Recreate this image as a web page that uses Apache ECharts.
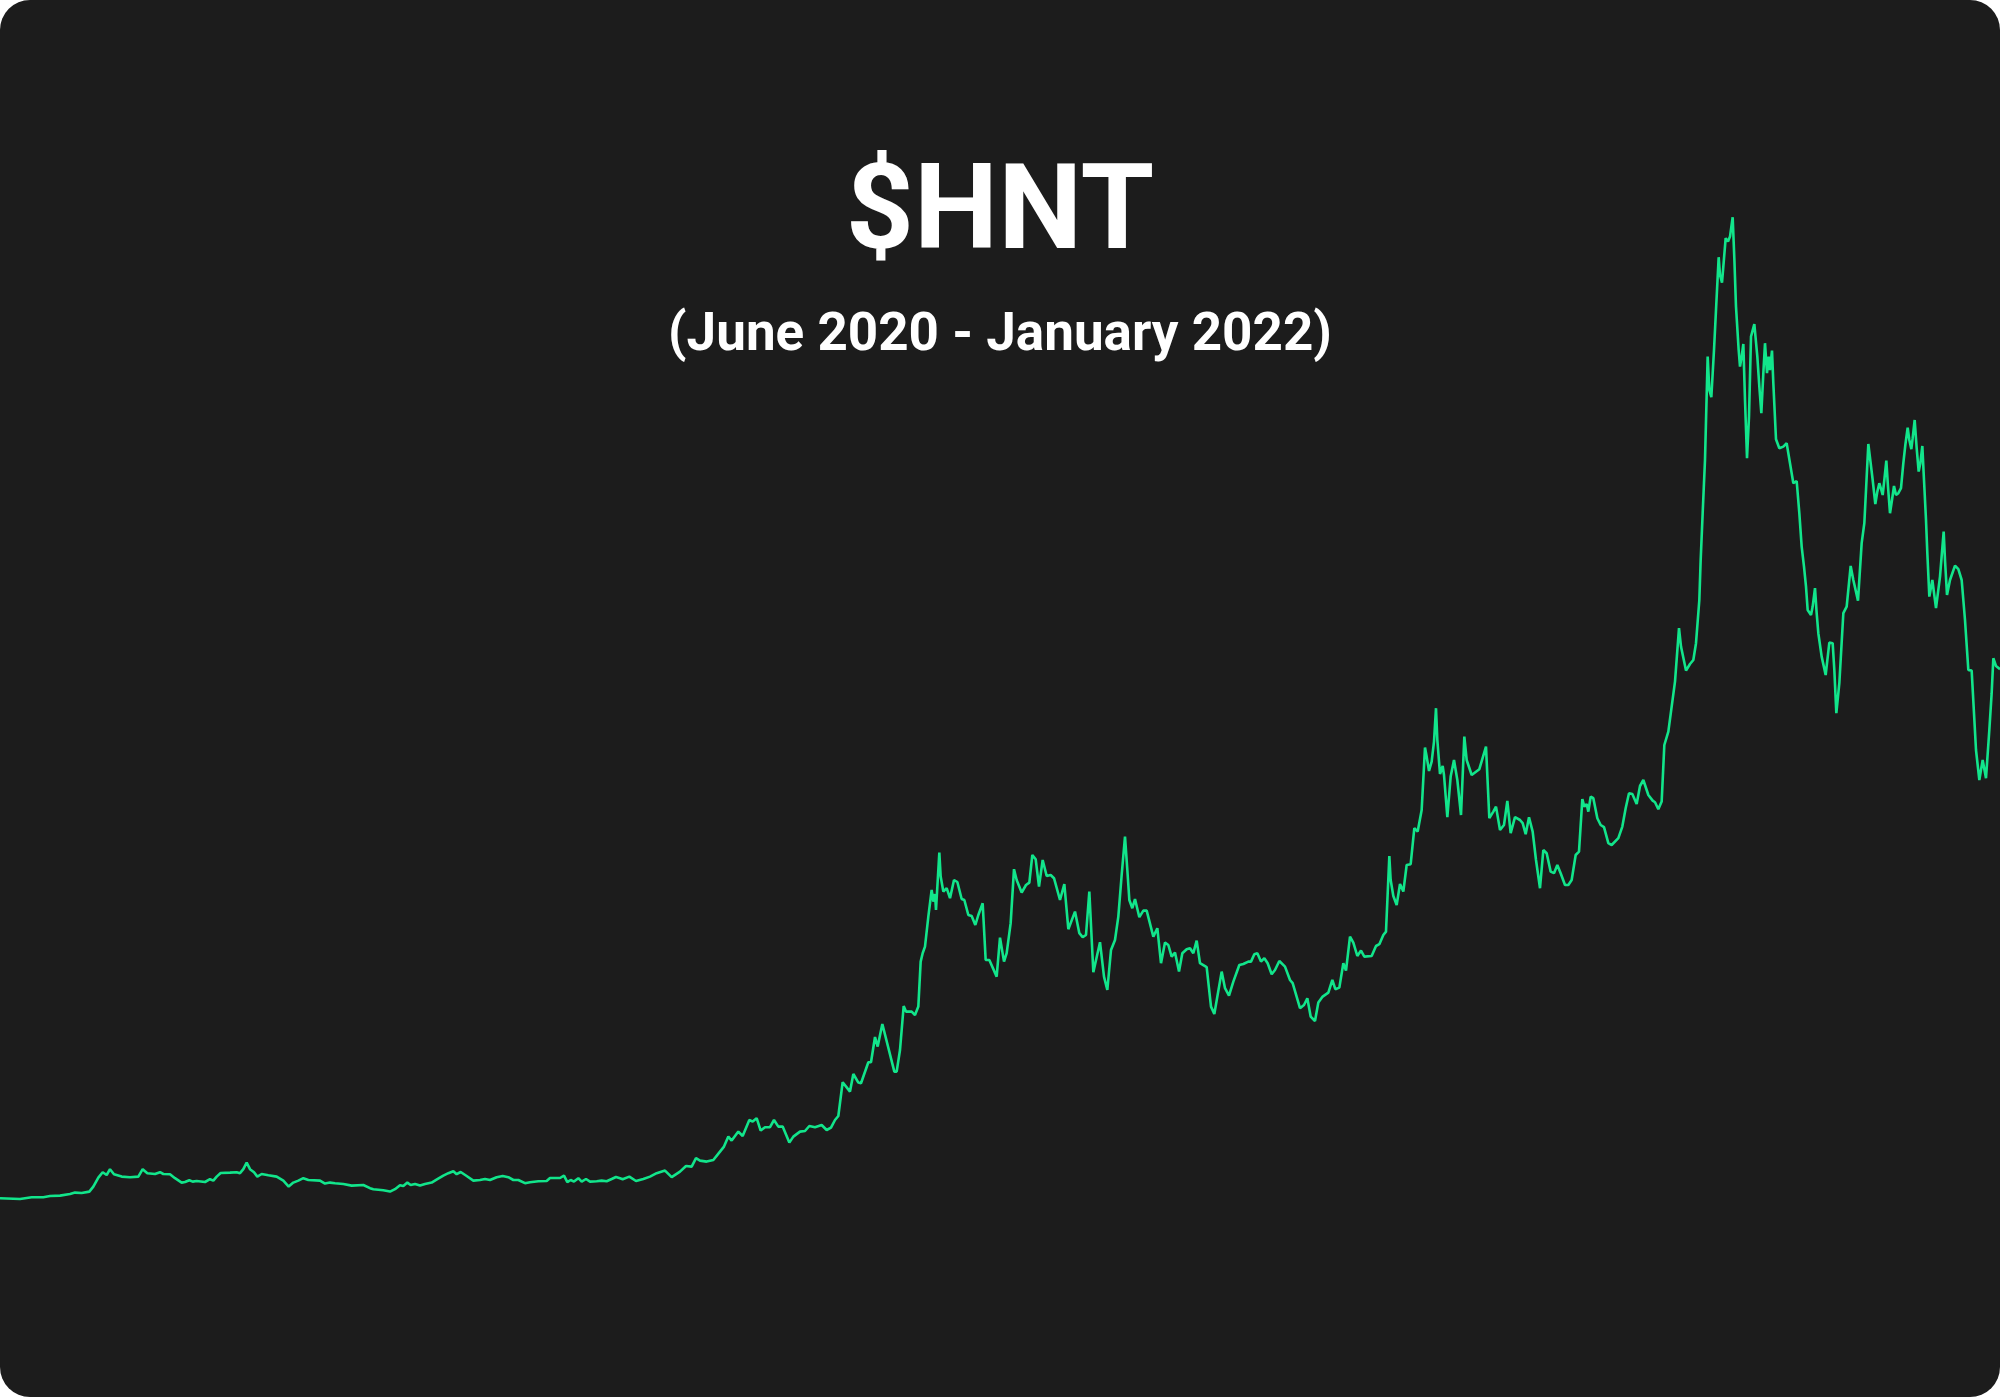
<!DOCTYPE html>
<html>
<head>
<meta charset="utf-8">
<title>$HNT</title>
<script src="https://cdn.jsdelivr.net/npm/echarts@6/dist/echarts.min.js"></script>
<style>
  html, body { margin: 0; padding: 0; background: #ffffff; }
  #chart {
    width: 2000px;
    height: 1397px;
    background: #1c1c1c;
    border-radius: 30px;
    overflow: hidden;
  }
</style>
</head>
<body>
<div id="chart"></div>
<script>
// HNT price, June 2020 - January 2022
const titleText = '$HNT';
const subtitleText = '(June 2020 - January 2022)';

// day offset since start of June 2020
const days = [
  0, 6, 9.5, 13, 15, 18, 21, 22.5, 24.5, 26.8, 28, 29.5, 30.8, 32, 33, 34.2, 36.5, 39, 41.5, 42.8,
  44.2, 46.5, 48, 49, 51, 52.5, 54.5, 55.5, 56.8, 57.8, 59, 61.5, 63, 64, 65, 66.2, 69, 71, 72, 73,
  74, 75, 76.2, 77.2, 78.5, 80.5, 83, 85, 86.6, 88, 89.5, 91, 92.5, 96, 97.5, 99, 100.5, 103, 105.5, 109,
  111, 112, 115, 117, 118.5, 120, 121, 122.2, 123.2, 124.5, 126, 127.5, 129.5, 131.2, 133, 134.5, 136, 137, 138.2, 140,
  142, 144, 145.5, 147, 149, 150.8, 152.5, 154, 155.5, 157.5, 159, 161.5, 164, 165, 168, 169.2, 170.2, 171.2, 172.2, 173.5,
  174.5, 175.8, 177, 179, 180.5, 182, 183.5, 184.8, 186, 186.8, 188.8, 190.8, 193, 195, 197, 199.5, 201.5, 204, 205.8, 207.5,
  208.8, 210, 212, 214, 216, 217.2, 218.5, 219.5, 221.5, 222.8, 224.8, 225.8, 227, 228.2, 229.5, 231, 232.2, 233.5, 234.8, 236.8,
  238, 240, 241.5, 242.8, 244.5, 246.5, 248, 249.3, 250.5, 251.5, 252.8, 255, 256, 257.5, 258.3, 260.5, 261.3, 262.5, 263.3, 264.7,
  268.3, 269, 270, 271.1, 271.8, 273.5, 274.5, 275.5, 276.2, 276.8, 277.5, 278.5, 279.5, 280, 280.5, 280.8, 281.8, 282.2, 283, 284,
  285, 286.2, 287.2, 288.5, 289.3, 290.5, 291.5, 292.6, 293.5, 294.8, 295.7, 296.8, 299, 300, 301.2, 302, 303.2, 304.2, 305, 306.5,
  307.8, 308.8, 309.7, 310.7, 311.7, 312.8, 314, 315.2, 316.2, 318, 319.3, 320.5, 322.5, 323.8, 324.8, 325.8, 326.8, 328, 330, 331.2,
  332.2, 333.3, 334.5, 335.5, 336.5, 337.5, 338.2, 338.8, 339.7, 340.5, 341.8, 343, 344, 346, 347.2, 348.3, 349.5, 350.5, 351.5, 352.5,
  353.7, 354.7, 356, 357, 358, 359, 360, 362, 363.3, 364.3, 366.5, 367.5, 368.7, 370, 371.8, 373, 374.5, 375.3, 376.3, 377.2,
  378.3, 379.3, 380.3, 381.5, 382.5, 383.8, 385.5, 387, 387.8, 390, 391.2, 392.2, 393.2, 394.5, 395.5, 396.8, 398.5, 399.7, 400.6, 401.8,
  403, 403.8, 405, 406, 407.2, 408.3, 409.3, 411.5, 412.8, 413.8, 415, 415.8, 416.8, 417.2, 418, 419, 420, 421, 422, 423.2,
  424.3, 425.3, 426.5, 427.5, 428, 428.7, 429.5, 430.2, 430.8, 431.2, 432, 432.8, 433.2, 434.2, 435.2, 436.2, 437.2, 438.3, 439.3, 440,
  441.5, 443.8, 445.8, 446.8, 448, 448.8, 450, 451.2, 452.2, 453.2, 454.5, 456, 456.8, 457.7, 458.7, 459.8, 460.8, 462, 463, 464,
  465.2, 466.2, 467.2, 468.2, 469.5, 470.5, 471.5, 472.7, 473.7, 474.7, 475.3, 476, 476.5, 477.2, 478, 479.2, 480.2, 481.2, 482.5, 483.5,
  485.5, 486.7, 487.7, 488.7, 489.7, 491, 492, 493, 494.5, 495.8, 496.5, 497.5, 498.5, 499.3, 500.5, 502.5, 503.7, 504.3, 505.8, 507,
  508, 508.8, 509.8, 510.2, 510.8, 511.5, 512.3, 512.8, 513.4, 514.2, 514.8, 515.6, 516, 516.6, 517, 517.7, 518.4, 519, 519.8, 520.3,
  520.8, 521.6, 522, 522.5, 523, 523.5, 524.1, 524.7, 525.3, 526.3, 527.2, 527.8, 528.4, 529, 529.5, 530.1, 530.6, 531, 531.6, 532,
  532.8, 533.8, 535, 536, 537, 538, 539, 539.8, 540.5, 541.2, 541.8, 542.3, 543.3, 543.8, 544.5, 545, 545.5, 546.5, 547.7, 548.8,
  549.8, 550.3, 550.9, 551.8, 553, 554, 555.2, 556, 557.4, 558.5, 559.3, 560.5, 561.2, 561.8, 562.6, 563.2, 563.8, 564.4, 564.8, 565.3,
  565.9, 566.4, 567, 567.6, 568.2, 568.8, 569.5, 570.3, 571, 571.6, 572.3, 572.8, 573.4, 573.8, 574.4, 575, 575.6, 576.1, 576.7, 577.2,
  577.8, 578.2, 578.8, 579.7, 580.8, 582, 583.1, 583.5, 584.1, 585, 586.5, 587.5, 588.5, 589.5, 590.5, 591.5, 592.2, 592.8, 593.8, 594.8,
  595.8, 596.8, 597.5, 598, 598.8, 600
];

// price in USD
const prices = [
  0.69, 0.65, 0.74, 0.74, 0.80, 0.82, 0.90, 0.97, 0.95, 1.02, 1.27, 1.72, 1.99, 1.85, 2.14, 1.89, 1.77, 1.74, 1.77, 2.14,
  1.94, 1.90, 1.99, 1.90, 1.89, 1.69, 1.47, 1.50, 1.59, 1.52, 1.55, 1.50, 1.64, 1.57, 1.77, 1.95, 1.97, 1.99, 1.94, 2.14,
  2.47, 2.14, 1.99, 1.77, 1.90, 1.84, 1.77, 1.57, 1.27, 1.47, 1.57, 1.69, 1.60, 1.57, 1.42, 1.47, 1.44, 1.40, 1.32, 1.35,
  1.19, 1.14, 1.09, 1.02, 1.14, 1.34, 1.30, 1.47, 1.35, 1.40, 1.32, 1.40, 1.47, 1.64, 1.82, 1.94, 2.04, 1.89, 2.00, 1.80,
  1.57, 1.60, 1.65, 1.60, 1.74, 1.80, 1.74, 1.60, 1.60, 1.44, 1.49, 1.54, 1.55, 1.70, 1.70, 1.82, 1.49, 1.60, 1.52, 1.69,
  1.52, 1.65, 1.52, 1.54, 1.57, 1.54, 1.65, 1.75, 1.69, 1.64, 1.77, 1.55, 1.65, 1.77, 1.94, 2.07, 1.74, 2.02, 2.30, 2.27,
  2.69, 2.57, 2.52, 2.60, 3.02, 3.27, 3.77, 3.57, 4.02, 3.80, 4.60, 4.52, 4.69, 4.07, 4.24, 4.24, 4.60, 4.27, 4.27, 3.47,
  3.77, 4.02, 4.05, 4.30, 4.24, 4.35, 4.10, 4.22, 4.60, 4.80, 6.49, 6.02, 6.90, 6.47, 6.44, 7.49, 7.49, 8.75, 8.27, 9.40,
  7.02, 7.02, 8.10, 10.30, 10.02, 10.02, 9.85, 10.27, 12.52, 12.94, 13.27, 14.77, 16.10, 15.52, 15.90, 15.10, 17.97, 16.77, 16.02, 16.19,
  15.69, 16.60, 16.50, 15.65, 15.60, 14.85, 14.80, 14.35, 14.85, 15.44, 12.60, 12.60, 11.77, 13.72, 12.52, 12.94, 14.44, 17.14, 16.60, 15.97,
  16.35, 16.47, 17.85, 17.64, 16.27, 17.60, 16.80, 16.85, 16.69, 15.60, 16.39, 14.14, 15.02, 13.94, 13.74, 13.85, 16.02, 11.99, 13.49, 11.77,
  11.10, 13.10, 13.60, 14.77, 16.85, 18.77, 17.10, 15.60, 15.19, 15.65, 14.74, 15.07, 15.07, 13.77, 14.19, 12.44, 13.47, 13.35, 12.77, 12.97,
  12.02, 12.94, 13.14, 13.19, 12.94, 13.57, 12.44, 12.24, 10.27, 9.90, 12.02, 11.19, 10.82, 11.52, 12.35, 12.40, 12.52, 12.52, 12.89, 12.94,
  12.52, 12.69, 12.44, 11.89, 12.10, 12.55, 12.27, 11.60, 11.44, 10.19, 10.35, 10.69, 9.77, 9.55, 10.47, 10.77, 10.97, 11.60, 11.14, 11.22,
  12.44, 12.07, 13.77, 13.47, 12.80, 13.07, 12.77, 12.80, 13.30, 13.39, 13.85, 14.02, 17.80, 16.60, 15.80, 15.35, 16.40, 16.02, 17.35, 17.39,
  19.19, 19.02, 20.10, 23.22, 22.77, 22.05, 22.52, 23.52, 25.19, 23.60, 21.90, 22.30, 21.85, 19.74, 21.77, 22.60, 21.60, 19.85, 23.77, 22.60,
  21.85, 22.14, 23.27, 19.69, 20.02, 20.27, 19.10, 19.35, 20.55, 18.94, 19.74, 19.60, 19.44, 18.89, 19.74, 19.02, 17.60, 16.19, 18.10, 17.94,
  17.02, 16.94, 17.35, 16.94, 16.35, 16.35, 16.60, 17.85, 18.02, 20.64, 20.27, 20.40, 20.02, 20.77, 20.69, 19.69, 19.35, 19.24, 18.44, 18.35,
  18.69, 19.27, 20.19, 20.94, 20.90, 20.40, 21.30, 21.60, 20.85, 20.57, 20.49, 20.14, 20.52, 23.35, 24.02, 26.52, 29.19, 28.27, 27.07, 27.40,
  27.60, 28.44, 30.60, 32.60, 34.94, 37.60, 42.77, 41.10, 40.74, 43.10, 45.10, 47.74, 46.85, 46.47, 47.27, 48.69, 48.52, 48.77, 49.74, 47.69,
  45.27, 43.10, 42.27, 42.77, 43.40, 40.60, 37.69, 39.77, 43.77, 44.39, 42.77, 41.27, 39.94, 41.94, 43.44, 41.94, 42.77, 42.10, 43.07, 41.44,
  38.64, 38.19, 38.27, 38.44, 37.44, 36.44, 36.55, 34.94, 33.27, 32.27, 31.27, 30.10, 29.85, 30.27, 31.19, 29.94, 28.94, 27.77, 26.85, 28.47,
  28.44, 27.10, 24.94, 26.44, 29.94, 30.27, 32.30, 31.60, 30.57, 33.44, 34.44, 38.40, 37.44, 36.60, 35.40, 36.02, 36.44, 36.10, 35.85, 36.60,
  37.57, 36.27, 34.94, 35.60, 36.30, 35.85, 35.94, 36.19, 37.44, 38.35, 39.22, 38.60, 38.14, 38.69, 39.60, 38.19, 37.02, 37.44, 38.30, 36.60,
  34.60, 32.94, 30.77, 31.60, 30.19, 31.77, 34.02, 32.60, 30.85, 31.60, 32.32, 32.14, 31.60, 29.60, 27.10, 27.07, 24.94, 23.10, 21.60, 22.60,
  21.69, 24.10, 25.94, 27.69, 27.30, 27.14
];

const chartDom = document.getElementById('chart');
const chart = echarts.init(chartDom, null, { renderer: 'canvas' });

const option = {
  animation: false,
  backgroundColor: 'transparent',
  title: [
    {
      text: titleText,
      left: 'center',
      top: 154,
      textStyle: {
        color: '#ffffff',
        fontFamily: 'Roboto',
        fontWeight: 'bold',
        fontSize: 119,
        lineHeight: 119,
      },
    },
    {
      text: subtitleText,
      left: 'center',
      top: 305,
      textStyle: {
        color: '#ffffff',
        fontFamily: 'Roboto',
        fontWeight: 'bold',
        fontSize: 53,
        lineHeight: 53,
      },
    },
  ],
  grid: {
    left: 0,
    right: 0,
    top: 52,
    bottom: 185,
  },
  xAxis: {
    type: 'value',
    min: 0,
    max: 600,
    show: false,
  },
  yAxis: {
    type: 'value',
    min: 0,
    max: 58,
    show: false,
  },
  series: [
    {
      name: 'HNT',
      type: 'line',
      data: days.map((d, i) => [d, prices[i]]),
      showSymbol: false,
      smooth: false,
      clip: false,
      lineStyle: {
        color: '#12e58b',
        width: 2.6,
      },
    },
  ],
};

chart.setOption(option);
</script>
</body>
</html>
